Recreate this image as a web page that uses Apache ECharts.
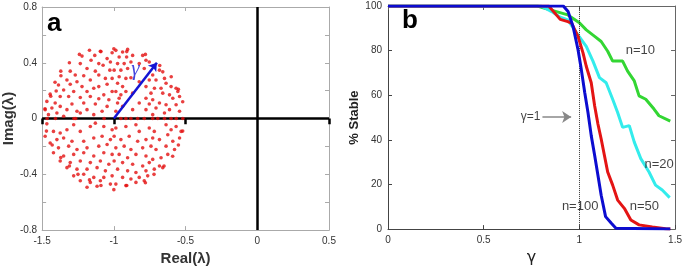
<!DOCTYPE html>
<html><head><meta charset="utf-8">
<script src="https://cdn.jsdelivr.net/npm/echarts@6/dist/echarts.min.js"></script>
<style>html,body{margin:0;padding:0;background:#fff}#c{width:685px;height:271px}</style>
</head><body><div id="c"></div>
<script>
// ---- Panel a: eigenvalues (Real, Imag) ----
const eigUpperLeft = [[-1.012,0.472],[-1.094,0.482],[-1.133,0.453],[-1.047,0.430],[-1.222,0.448],[-1.159,0.418],[-1.105,0.394],[-1.024,0.406],[-1.075,0.382],[-1.234,0.394],[-1.187,0.359],[-1.129,0.340],[-1.028,0.347],[-1.304,0.340],[-1.269,0.312],[-1.210,0.307],[-1.105,0.312],[-1.059,0.288],[-1.012,0.288],[-1.369,0.307],[-1.327,0.276],[-1.257,0.264],[-1.164,0.276],[-1.386,0.241],[-1.304,0.246],[-1.222,0.229],[-1.047,0.246],[-1.105,0.229],[-1.444,0.175],[-1.402,0.198],[-1.350,0.205],[-1.280,0.194],[-1.187,0.194],[-1.140,0.217],[-1.012,0.194],[-1.070,0.170],[-1.374,0.158],[-1.315,0.158],[-1.234,0.151],[-1.164,0.158],[-1.105,0.142],[-1.035,0.135],[-1.467,0.123],[-1.409,0.111],[-1.292,0.104],[-1.210,0.111],[-1.129,0.104],[-1.047,0.087],[-1.479,0.064],[-1.432,0.076],[-1.374,0.087],[-1.327,0.064],[-1.257,0.052],[-1.187,0.064],[-1.082,0.052],[-1.456,0.028],[-1.397,0.040],[-1.350,0.017],[-1.234,0.040],[-1.140,0.028]];
const eigUpperRight = [[-0.986,0.489],[-0.939,0.477],[-0.904,0.496],[-0.963,0.441],[-0.911,0.441],[-0.869,0.453],[-0.799,0.453],[-0.776,0.418],[-0.974,0.394],[-0.928,0.394],[-0.881,0.406],[-0.823,0.394],[-0.753,0.406],[-0.998,0.347],[-0.951,0.347],[-0.904,0.359],[-0.788,0.359],[-0.682,0.347],[-0.659,0.335],[-0.963,0.300],[-0.916,0.288],[-0.881,0.293],[-0.729,0.312],[-0.647,0.288],[-0.753,0.276],[-0.706,0.276],[-0.636,0.253],[-0.974,0.253],[-0.939,0.229],[-0.823,0.264],[-0.776,0.229],[-0.601,0.229],[-0.717,0.217],[-0.671,0.217],[-0.566,0.217],[-0.986,0.194],[-0.951,0.170],[-0.916,0.194],[-0.869,0.182],[-0.741,0.182],[-0.659,0.182],[-0.612,0.170],[-0.554,0.194],[-0.963,0.146],[-0.776,0.146],[-0.729,0.135],[-0.589,0.146],[-0.542,0.158],[-0.974,0.111],[-0.939,0.087],[-0.823,0.111],[-0.753,0.104],[-0.682,0.111],[-0.636,0.099],[-0.706,0.076],[-0.612,0.064],[-0.566,0.099],[-0.986,0.052],[-0.869,0.064],[-0.776,0.064],[-0.647,0.040],[-0.542,0.052],[-0.729,0.028]];
const eigLowerLeft = [[-1.467,-0.038],[-1.421,-0.092],[-1.374,-0.104],[-1.327,-0.080],[-1.280,-0.045],[-1.234,-0.092],[-1.164,-0.057],[-1.129,-0.033],[-1.070,-0.057],[-1.012,-0.080],[-1.479,-0.127],[-1.397,-0.151],[-1.444,-0.175],[-1.350,-0.139],[-1.292,-0.163],[-1.210,-0.163],[-1.140,-0.139],[-1.082,-0.127],[-1.024,-0.151],[-1.386,-0.210],[-1.315,-0.198],[-1.257,-0.222],[-1.187,-0.210],[-1.105,-0.198],[-1.047,-0.186],[-1.421,-0.245],[-1.350,-0.269],[-1.280,-0.257],[-1.210,-0.245],[-1.140,-0.269],[-1.070,-0.245],[-1.012,-0.257],[-1.374,-0.304],[-1.304,-0.316],[-1.234,-0.304],[-1.164,-0.316],[-1.094,-0.304],[-1.035,-0.328],[-1.327,-0.352],[-1.257,-0.363],[-1.187,-0.363],[-1.117,-0.352],[-1.059,-0.375],[-1.280,-0.411],[-1.210,-0.399],[-1.140,-0.422],[-1.070,-0.422],[-1.012,-0.411],[-1.234,-0.446],[-1.164,-0.458],[-1.094,-0.446],[-1.024,-0.470],[-1.187,-0.493],[-1.117,-0.486]];
const eigLowerRight = [[-0.986,-0.068],[-0.916,-0.057],[-0.846,-0.045],[-0.823,-0.092],[-0.753,-0.068],[-0.718,-0.092],[-0.636,-0.045],[-0.601,-0.080],[-0.566,-0.057],[-0.531,-0.092],[-0.998,-0.127],[-0.951,-0.151],[-0.893,-0.127],[-0.834,-0.163],[-0.776,-0.151],[-0.729,-0.139],[-0.682,-0.151],[-0.624,-0.116],[-0.589,-0.163],[-0.542,-0.139],[-0.986,-0.210],[-0.928,-0.198],[-0.881,-0.222],[-0.799,-0.210],[-0.741,-0.198],[-0.706,-0.222],[-0.636,-0.198],[-0.577,-0.222],[-0.963,-0.257],[-0.904,-0.281],[-0.846,-0.257],[-0.776,-0.269],[-0.729,-0.293],[-0.671,-0.281],[-0.624,-0.257],[-0.998,-0.304],[-0.939,-0.316],[-0.869,-0.328],[-0.799,-0.340],[-0.753,-0.316],[-0.682,-0.340],[-0.659,-0.352],[-0.974,-0.363],[-0.904,-0.375],[-0.846,-0.387],[-0.776,-0.375],[-0.718,-0.363],[-0.939,-0.422],[-0.881,-0.434],[-0.823,-0.422],[-0.764,-0.411],[-0.986,-0.470],[-0.916,-0.481],[-0.846,-0.458],[-0.788,-0.446]];
const eigEdge = [[-1.48,0.07],[-1.44,0.16],[-1.41,0.26],[-1.37,0.34],[-1.31,0.40],[-1.24,0.46],[-1.17,0.49],[-1.09,0.48],[-1.00,0.50],[-0.91,0.48],[-0.78,0.46],[-0.68,0.38],[-0.60,0.30],[-0.55,0.21],[-0.52,0.12],[-0.52,-0.09],[-0.55,-0.19],[-0.59,-0.27],[-0.65,-0.34],[-0.72,-0.40],[-0.78,-0.46],[-0.91,-0.48],[-1.00,-0.51],[-1.09,-0.48],[-1.17,-0.44],[-1.25,-0.40],[-1.31,-0.34],[-1.37,-0.28],[-1.43,-0.19],[-1.47,-0.09]];
const eigRealAxis = [[-1.465,0],[-1.407,0],[-1.278,0],[-1.266,0],[-1.068,0],[-0.951,0],[-0.916,0],[-0.881,0],[-0.834,0],[-0.788,0],[-0.729,0],[-0.694,0],[-0.647,0],[-0.601,0],[-0.565,0],[-0.519,0]];
const gammaArrow = [[-1, 0], [-0.7, 0.4]];
const realAxisTicks = [-1.5, -1, -0.5, 0.5];

// ---- Panel b: % stable vs gamma ----
const n10 = [[0,100],[0.78,100],[0.82,99],[0.88,97.5],[0.94,96],[1.0,92.5],[1.036,89.3],[1.08,86.4],[1.114,84.1],[1.148,79.7],[1.174,75.3],[1.226,75.3],[1.252,70.8],[1.287,66.4],[1.312,59.7],[1.347,58.2],[1.39,53.8],[1.416,50.8],[1.475,48.4]];
const n20 = [[0,100],[0.8,100],[0.855,97.5],[0.9,95],[0.94,93.8],[0.985,87.9],[1.036,81.9],[1.071,75.3],[1.105,67.9],[1.14,65.6],[1.174,58.2],[1.2,52.3],[1.226,45.6],[1.261,46.4],[1.287,39],[1.321,31.6],[1.364,25.6],[1.398,19.7],[1.433,17.5],[1.472,14.1]];
const n50 = [[0,100],[0.84,100],[0.873,96.7],[0.9,94],[0.94,93],[0.959,92.3],[0.993,86.4],[1.019,79],[1.036,73],[1.062,65.6],[1.08,55.2],[1.097,47.1],[1.114,40.4],[1.131,33],[1.148,25.6],[1.174,19.7],[1.2,13],[1.235,9.3],[1.269,4.1],[1.312,1.9],[1.381,0.9],[1.45,0.2],[1.475,0]];
const n100 = [[0,100],[0.916,100],[0.941,97.5],[0.967,90.8],[0.993,80.4],[1.01,71.6],[1.028,61.2],[1.045,52.3],[1.062,41.9],[1.08,33],[1.097,24.1],[1.114,15.2],[1.137,5.6],[1.166,2.7],[1.191,0.4],[1.2,0],[1.475,0]];
const curveLabels = [[1.319,80,'n=10'],[1.417,28.9,'n=20'],[1.34,10.2,'n=50'],[1.004,10.2,'n=100']];
const gammaOneArrow = [[0.807,50.2],[0.957,50.2]];
const gammaOneLabel = [[0.745,50.2,'γ=1']];

const FONT = 'Liberation Sans';
const chart = echarts.init(document.getElementById('c'), null, {renderer:'canvas'});

function frameAxis(gridIndex, pos, min, max, interval, color, showLabel, extra) {
  return Object.assign({
    type:'value', gridIndex, position:pos, min, max, interval,
    axisLine:{show:true, onZero:false, lineStyle:{color, width:1}},
    axisTick:{show:true, inside:true, length:4, lineStyle:{color}},
    axisLabel:{show:showLabel, color:'#333', fontSize:10, fontFamily:FONT, margin:6},
    splitLine:{show:false}
  }, extra||{});
}

const tickSegs = realAxisTicks.map(x => ({coords:[[x,0],[x,-0.04]]}));

const option = {
  animation:false,
  backgroundColor:'#fff',
  grid:[
    {left:40, top:7, width:289, height:226},
    {left:388, top:6, width:291, height:225}
  ],
  xAxis:[
    frameAxis(0,'bottom',-1.5,0.5,0.5,'#aaa',true,{name:'Real(λ)', nameLocation:'middle', nameGap:18,
      nameTextStyle:{fontFamily:FONT, fontWeight:'bold', fontSize:15, color:'#333'}}),
    frameAxis(0,'top',-1.5,0.5,0.5,'#aaa',false),
    frameAxis(1,'bottom',0,1.5,0.5,'#444',true,{name:'γ', nameLocation:'middle', nameGap:17,
      nameTextStyle:{fontFamily:'DejaVu Sans', fontSize:16, color:'#222'}}),
    frameAxis(1,'top',0,1.5,0.5,'#666',false)
  ],
  yAxis:[
    frameAxis(0,'left',-0.8,0.8,0.2,'#aaa',true,{name:'Imag(λ)', nameLocation:'middle', nameGap:22,
      nameTextStyle:{fontFamily:FONT, fontWeight:'bold', fontSize:15, color:'#333'},
      axisLabel:{show:true, color:'#333', fontSize:10, fontFamily:FONT, margin:5,
        formatter:v=>{const k=Math.round(v*10); return k%4===0 ? String(k/10) : '';}}}),
    frameAxis(0,'right',-0.8,0.8,0.2,'#aaa',false),
    frameAxis(1,'left',0,100,20,'#444',true,{name:'% Stable', nameLocation:'middle', nameGap:25,
      nameTextStyle:{fontFamily:FONT, fontWeight:'bold', fontSize:13, color:'#222'}}),
    frameAxis(1,'right',0,100,20,'#666',false)
  ],
  series:[
    {type:'lines', coordinateSystem:'cartesian2d', xAxisIndex:0, yAxisIndex:0, z:2, silent:true,
      lineStyle:{color:'#000', width:2.5, opacity:1}, symbol:'none',
      data:[{coords:[[-1.5,0],[0.5,0]]},{coords:[[0,-0.8],[0,0.8]]}].concat(tickSegs)},
    {type:'scatter', xAxisIndex:0, yAxisIndex:0, z:3, symbol:'circle', symbolSize:3.6,
      itemStyle:{color:'#e41010'},
      data:[].concat(eigUpperLeft, eigUpperRight, eigLowerLeft, eigLowerRight, eigEdge, eigRealAxis)},
    {type:'lines', coordinateSystem:'cartesian2d', xAxisIndex:0, yAxisIndex:0, z:4, silent:true,
      symbol:['none','arrow'], symbolSize:8,
      lineStyle:{color:'#1414d4', width:2.5, opacity:1},
      data:[{coords:gammaArrow}]},
    {type:'scatter', xAxisIndex:0, yAxisIndex:0, z:5, symbolSize:0, silent:true,
      data:[[-0.85,0.35]],
      label:{show:true, position:'inside', formatter:'γ', color:'#1414d4',
        fontFamily:'Liberation Serif', fontStyle:'italic', fontSize:21}},
    {type:'line', name:'n=10', xAxisIndex:2, yAxisIndex:2, data:n10, showSymbol:false, z:3,
      lineStyle:{color:'#33d633', width:3}},
    {type:'line', name:'n=20', xAxisIndex:2, yAxisIndex:2, data:n20, showSymbol:false, z:4,
      lineStyle:{color:'#33ecec', width:3}},
    {type:'line', name:'n=50', xAxisIndex:2, yAxisIndex:2, data:n50, showSymbol:false, z:5,
      lineStyle:{color:'#e41414', width:3}},
    {type:'line', name:'n=100', xAxisIndex:2, yAxisIndex:2, data:n100, showSymbol:false, z:6,
      lineStyle:{color:'#0c0cd0', width:3},
      markLine:{silent:true, symbol:'none', label:{show:false},
        lineStyle:{color:'#333', type:'dotted', width:1}, data:[{xAxis:1}]}},
    {type:'lines', coordinateSystem:'cartesian2d', xAxisIndex:2, yAxisIndex:2, z:7, silent:true,
      symbol:['none','arrow'], symbolSize:[7,9],
      lineStyle:{color:'#888', width:1.5, opacity:1},
      data:[{coords:gammaOneArrow}]},
    {type:'scatter', xAxisIndex:2, yAxisIndex:2, z:8, symbolSize:0, silent:true,
      data:curveLabels,
      label:{show:true, position:'inside', formatter:p=>p.data[2], color:'#111',
        fontFamily:FONT, fontSize:13}},
    {type:'scatter', xAxisIndex:2, yAxisIndex:2, z:8, symbolSize:0, silent:true,
      data:gammaOneLabel,
      label:{show:true, position:'inside', formatter:p=>p.data[2], color:'#111',
        fontFamily:FONT, fontSize:12}}
  ],
  graphic:[
    {type:'text', left:47, top:11, style:{text:'a', fontFamily:FONT, fontWeight:'bold', fontSize:26, fill:'#000'}},
    {type:'text', left:402, top:8, style:{text:'b', fontFamily:FONT, fontWeight:'bold', fontSize:26, fill:'#000'}}
  ]
};
chart.setOption(option);
</script>
</body></html>
